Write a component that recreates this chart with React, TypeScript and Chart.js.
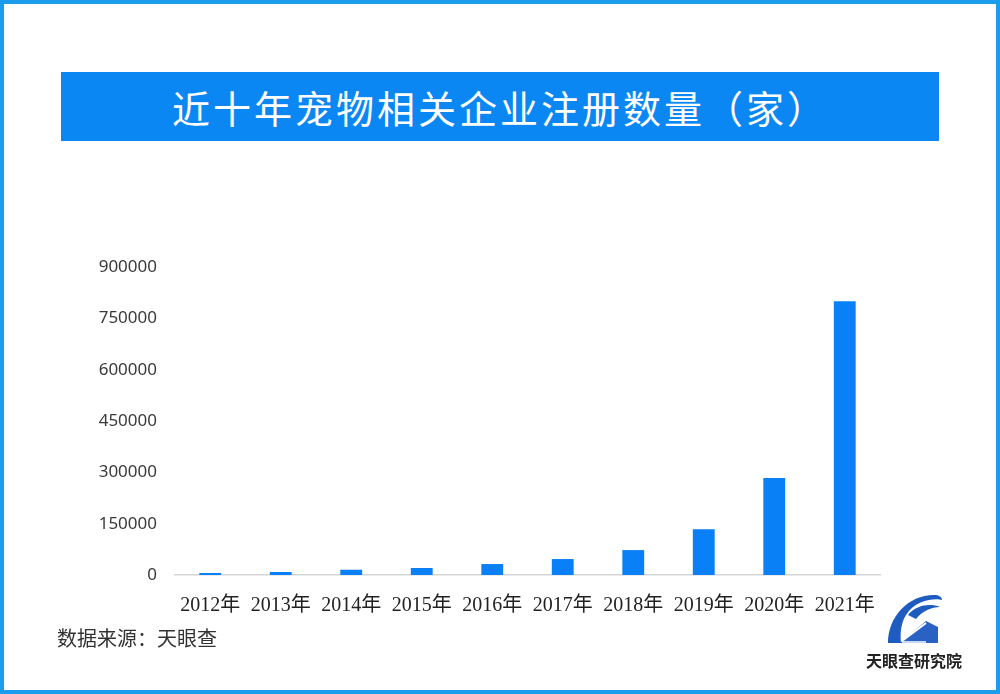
import React, { useEffect, useRef } from "react";
import { Chart, registerables } from "chart.js";

Chart.register(...registerables);

const years = ["2012年", "2013年", "2014年", "2015年", "2016年", "2017年", "2018年", "2019年", "2020年", "2021年"];
const counts = [5800, 8700, 15400, 20400, 32000, 46600, 72800, 134000, 283400, 800000];
const yMax = 900000;
const yStep = 150000;

const titleText = "近十年宠物相关企业注册数量（家）";
const sourceText = "数据来源：天眼查";
const logoText = "天眼查研究院";

export default function App() {
  const canvasRef = useRef<HTMLCanvasElement | null>(null);

  useEffect(() => {
    document.body.style.margin = "0";
    const canvas = canvasRef.current;
    if (!canvas) return;
    const chart = new Chart(canvas, {
      type: "bar",
      data: {
        labels: years,
        datasets: [
          {
            data: counts,
            backgroundColor: "#0a80f6",
            borderWidth: 0,
            categoryPercentage: 1,
            barPercentage: 0.31,
          },
        ],
      },
      options: {
        responsive: false,
        animation: false,
        layout: { padding: { left: 0, top: 267, right: 120, bottom: 69 } },
        plugins: { legend: { display: false }, tooltip: { enabled: false }, title: { display: false } },
        scales: {
          x: {
            grid: { display: false, drawTicks: false },
            border: { display: true, color: "#d6d6d6", width: 1.5 },
            ticks: {
              font: { family: '"Liberation Serif", "Noto Sans CJK SC", serif', size: 20 },
              color: "#222",
              padding: 19,
              maxRotation: 0,
              autoSkip: false,
            },
            afterFit: (s: any) => {
              s.height = 50;
            },
          },
          y: {
            min: 0,
            max: yMax,
            ticks: {
              stepSize: yStep,
              callback: (v: any) => String(v),
              font: { family: '"Noto Sans", "Open Sans", sans-serif', size: 17 },
              color: "#3a3a3a",
              padding: 18,
            },
            grid: { display: false, drawTicks: false },
            border: { display: false },
            afterFit: (s: any) => {
              s.width = 175;
            },
          },
        },
      },
    });
    return () => chart.destroy();
  }, []);

  return (
    <div style={{ position: "relative", width: 1000, height: 694, background: "#fff", overflow: "hidden" }}>
      <canvas ref={canvasRef} width={1000} height={694} style={{ position: "absolute", left: 0, top: 0 }} />
      <div
        style={{
          position: "absolute",
          left: 61,
          top: 72,
          width: 878,
          height: 69,
          background: "#0b87f4",
          color: "#fff",
          display: "flex",
          alignItems: "center",
          justifyContent: "center",
          fontFamily: '"Noto Sans CJK SC", sans-serif',
          fontSize: 38,
          letterSpacing: 3,
          whiteSpace: "nowrap",
        }}
      >
        {titleText}
      </div>
      <div
        style={{
          position: "absolute",
          left: 57,
          top: 624,
          fontFamily: '"Noto Sans CJK SC", sans-serif',
          fontSize: 20,
          color: "#333",
          lineHeight: "28px",
          whiteSpace: "nowrap",
        }}
      >
        {sourceText}
      </div>
      <svg
        width={56}
        height={54}
        viewBox="0 0 56 54"
        style={{ position: "absolute", left: 886, top: 591 }}
      >
        <path d="M2,52 C2,26 22,4 48,4 C53,4 56,6 56,9 C50,7 30,8 20,24 C15,32 14,42 15,52 Z" fill="#1f5cbf" />
        <path d="M22,24 C30,14 44,12 54,16 C46,16 36,20 30,28 Z" fill="#1f5cbf" />
        <path d="M14,52 L40,30 L52,36 L52,52 Z" fill="#2a62c4" />
        <path d="M16,50 L40,32" stroke="#ffffff" strokeWidth={2} />
        <path d="M16,51 L40,51" stroke="#ffffff" strokeWidth={1.5} />
      </svg>
      <div
        style={{
          position: "absolute",
          left: 865,
          top: 649,
          width: 98,
          textAlign: "center",
          fontFamily: '"Noto Sans CJK SC", sans-serif',
          fontWeight: 700,
          fontSize: 16,
          color: "#222",
          lineHeight: "22px",
          whiteSpace: "nowrap",
        }}
      >
        {logoText}
      </div>
      <div
        style={{
          position: "absolute",
          left: 0,
          top: 0,
          width: 1000,
          height: 694,
          boxSizing: "border-box",
          border: "4px solid #1c9cec",
          pointerEvents: "none",
        }}
      />
    </div>
  );
}
